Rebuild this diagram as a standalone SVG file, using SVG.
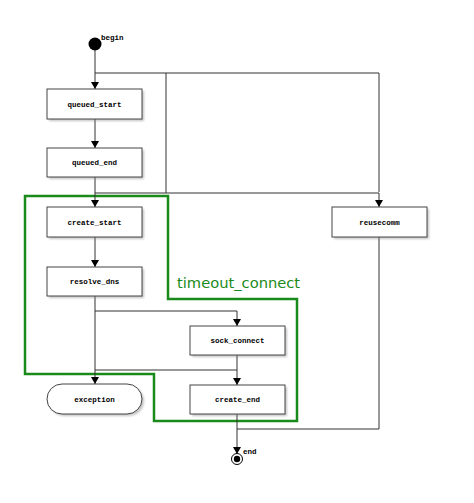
<svg xmlns="http://www.w3.org/2000/svg" width="474" height="503" viewBox="0 0 474 503">
<style>
.node rect.b{fill:#fff;stroke:#444;stroke-width:1}
.node rect.s{fill:#888;opacity:0.5;filter:url(#blur)}
.node text{font-family:"Liberation Mono","DejaVu Sans Mono",monospace;font-weight:bold;font-size:7.5px;text-anchor:middle;fill:#000}
.conn line,.conn polyline{fill:none;stroke:#333;stroke-width:1}
.lbl{font-family:"Liberation Mono",monospace;font-weight:bold;font-size:7.5px;fill:#000}
</style>
<defs>
<filter id="blur" x="-20%" y="-20%" width="140%" height="140%"><feGaussianBlur stdDeviation="1"/></filter>
<marker id="arr" markerWidth="8" markerHeight="8" refX="7" refY="4" orient="auto" markerUnits="userSpaceOnUse">
<path d="M0,0 L7,4 L0,8 Z" fill="#000"/>
</marker>
</defs>
<rect width="474" height="503" fill="#fff"/>
<g id="cluster">
<polygon points="25,196 168,196 168,299 297,299 297,421 154,421 154,374 25,374" fill="none" stroke="#1a8a1a" stroke-width="2.5"/>
<text x="177" y="288" font-family="DejaVu Sans,sans-serif" font-size="14.7" fill="#1a8a1a">timeout_connect</text>
</g>
<g class="conn" id="connectors">
<line x1="95" y1="50" x2="95" y2="89" marker-end="url(#arr)"/>
<polyline points="95,73 379,73 379,192"/>
<line x1="166" y1="73" x2="166" y2="193"/>
<line x1="95" y1="119" x2="95" y2="148" marker-end="url(#arr)"/>
<line x1="95" y1="177" x2="95" y2="207" marker-end="url(#arr)"/>
<polyline points="95,193 379,193 379,207" marker-end="url(#arr)"/>
<line x1="95" y1="237" x2="95" y2="267" marker-end="url(#arr)"/>
<line x1="95" y1="296" x2="95" y2="384" marker-end="url(#arr)"/>
<polyline points="95,311 237,311 237,326" marker-end="url(#arr)"/>
<line x1="237" y1="355" x2="237" y2="385" marker-end="url(#arr)"/>
<line x1="95" y1="370" x2="237" y2="370"/>
<line x1="237" y1="414" x2="237" y2="454" marker-end="url(#arr)"/>
<polyline points="379,237 379,429 237,429"/>
</g>
<g id="begin">
<circle cx="95" cy="44" r="6.5" fill="#000"/>
<text class="lbl" x="101" y="40">begin</text>
</g>
<g id="end">
<circle cx="237" cy="459" r="5.5" fill="#fff" stroke="#000" stroke-width="1"/>
<circle cx="237" cy="459" r="3.2" fill="#000"/>
<text class="lbl" x="243" y="454">end</text>
</g>
<g class="node" id="queued_start"><rect class="s" x="49" y="91" width="95" height="30"/><rect class="b" x="47" y="89" width="95" height="30"/><text x="94.5" y="106.5">queued_start</text></g>
<g class="node" id="queued_end"><rect class="s" x="49" y="150" width="95" height="29"/><rect class="b" x="47" y="148" width="95" height="29"/><text x="94.5" y="165">queued_end</text></g>
<g class="node" id="create_start"><rect class="s" x="49" y="209" width="95" height="30"/><rect class="b" x="47" y="207" width="95" height="30"/><text x="94.5" y="224.5">create_start</text></g>
<g class="node" id="resolve_dns"><rect class="s" x="49" y="269" width="95" height="29"/><rect class="b" x="47" y="267" width="95" height="29"/><text x="94.5" y="284">resolve_dns</text></g>
<g class="node" id="sock_connect"><rect class="s" x="192" y="328" width="95" height="29"/><rect class="b" x="190" y="326" width="95" height="29"/><text x="237.5" y="343">sock_connect</text></g>
<g class="node" id="exception"><rect class="s" x="49" y="386" width="95" height="30" rx="15"/><rect class="b" x="47" y="384" width="95" height="30" rx="15"/><text x="94.5" y="401.5">exception</text></g>
<g class="node" id="create_end"><rect class="s" x="192" y="387" width="95" height="29"/><rect class="b" x="190" y="385" width="95" height="29"/><text x="237.5" y="402">create_end</text></g>
<g class="node" id="reusecomm"><rect class="s" x="334" y="209" width="95" height="30"/><rect class="b" x="332" y="207" width="95" height="30"/><text x="379.5" y="224.5">reusecomm</text></g>
</svg>
